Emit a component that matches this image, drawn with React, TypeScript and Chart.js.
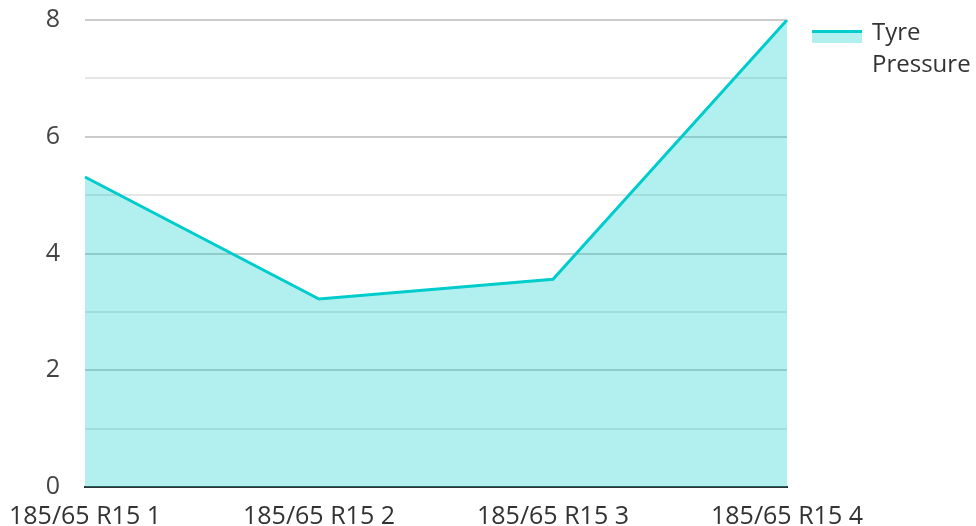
import React, { useEffect, useRef } from "react";
import { Chart, registerables } from "chart.js";

Chart.register(...registerables);

const categories = ["185/65 R15 1", "185/65 R15 2", "185/65 R15 3", "185/65 R15 4"];
const pressureValues = [5.31, 3.22, 3.56, 8];
const seriesName = ["Tyre", "Pressure"];
const yMin = 0;
const yMax = 8;

const LINE = "#00cccc";
const FILL = "rgba(0, 204, 204, 0.3)";
const FONT = "'Open Sans', 'Noto Sans', sans-serif";

const legendPlugin = {
  id: "sideLegend",
  afterDraw(chart: any) {
    const { ctx, chartArea } = chart;
    const x0 = chartArea.right + 25;
    ctx.save();
    ctx.fillStyle = FILL;
    ctx.fillRect(x0, 33, 50, 10);
    ctx.strokeStyle = LINE;
    ctx.lineWidth = 3;
    ctx.beginPath();
    ctx.moveTo(x0, 31.5);
    ctx.lineTo(x0 + 50, 31.5);
    ctx.stroke();
    ctx.fillStyle = "#333";
    ctx.font = `24px ${FONT}`;
    ctx.textBaseline = "alphabetic";
    ctx.textAlign = "left";
    seriesName.forEach((t, i) => ctx.fillText(t, x0 + 60, 39.5 + i * 32.5));
    ctx.restore();
  },
};

export default function App() {
  const ref = useRef<HTMLCanvasElement | null>(null);
  useEffect(() => {
    document.body.style.margin = "0";
    const canvas = ref.current!;
    const chart = new Chart(canvas, {
      type: "line",
      data: {
        labels: categories,
        datasets: [
          {
            label: seriesName.join(" "),
            data: pressureValues,
            borderColor: LINE,
            backgroundColor: FILL,
            borderWidth: 3,
            fill: "origin",
            tension: 0,
            pointRadius: 0,
            pointHoverRadius: 0,
          },
        ],
      },
      options: {
        animation: false,
        responsive: false,
        devicePixelRatio: 1,
        layout: { padding: { top: 20, right: 189, bottom: 0, left: 0 } },
        plugins: { legend: { display: false }, tooltip: { enabled: false } },
        scales: {
          x: {
            offset: false,
            grid: { display: false, drawTicks: false },
            border: { display: true, color: "#333", width: 2 },
            ticks: {
              autoSkip: false,
              maxRotation: 0,
              padding: 15,
              color: "#333",
              font: { family: FONT, size: 25 },
            },
            afterFit(scale: any) {
              scale.height = 39;
              scale.paddingLeft = 0;
              scale.paddingRight = 0;
            },
          },
          y: {
            min: yMin,
            max: yMax,
            grid: {
              drawTicks: false,
              color: (c: any) => (c.tick && c.tick.value % 2 === 0 ? "#cccccc" : "#e6e6e6"),
              lineWidth: 2,
            },
            border: { display: false },
            ticks: {
              stepSize: 1,
              padding: 25,
              color: "#444",
              font: { family: FONT, size: 25 },
              callback: (v: any) => (Number(v) % 2 === 0 ? String(v) : ""),
            },
            afterFit(scale: any) {
              scale.width = 85;
              scale.paddingTop = 0;
              scale.paddingBottom = 0;
            },
          },
        },
      },
      plugins: [legendPlugin],
    });
    return () => chart.destroy();
  }, []);
  return (
    <div style={{ position: "relative", width: 976, height: 526 }}>
      <canvas ref={ref} width={976} height={526} style={{ display: "block" }} />
    </div>
  );
}
